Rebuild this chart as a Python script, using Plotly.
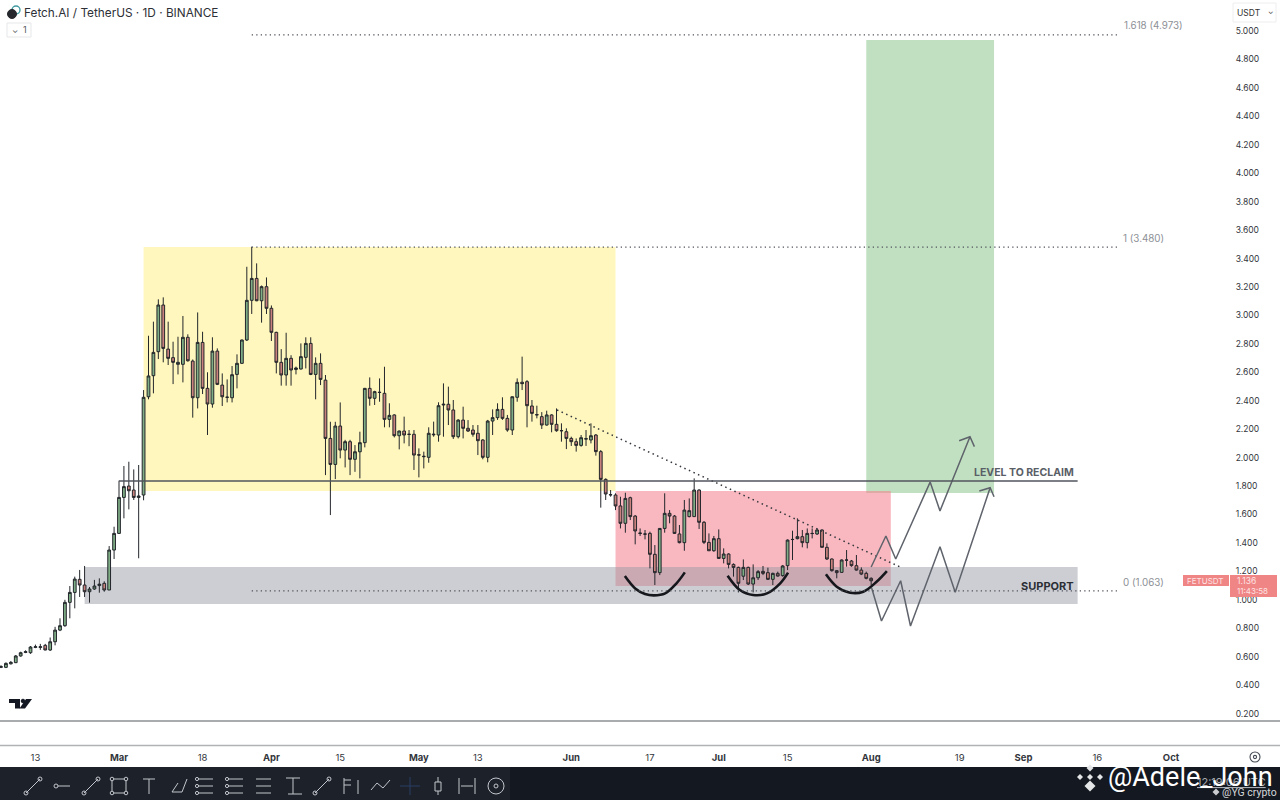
import pandas as pd
import plotly.graph_objs as go

# Daily candles: (open, close, high, low)
feb_ohlc = [
    (.525, .53, .54, .52), (.525, .553, .56, .52), (.55, .56, .57, .545), (.558, .605, .612, .555),
    (.605, .628, .635, .6), (.63, .635, .645, .625), (.628, .668, .675, .62), (.665, .67, .685, .66),
    (.665, .67, .69, .648), (.68, .647, .69, .645), (.647, .705, .735, .64), (.705, .787, .81, .68),
    (.787, .818, .87, .78), (.818, .982, 1.0, .81), (.982, 1.052, 1.097, .87), (1.052, 1.146, 1.163, .94),
    (1.144, 1.104, 1.21, 1.02), (1.104, 1.057, 1.238, 1.02), (1.057, 1.076, 1.09, .98), (1.076, 1.097, 1.14, 1.07),
    (1.10, 1.11, 1.151, 1.05), (1.116, 1.069, 1.13, 1.057), (1.069, 1.35, 1.378, 1.069), (1.35, 1.467, 1.514, 1.287),
]
mar_ohlc = [
    (1.467, 1.72, 1.838, 1.467), (1.72, 1.796, 1.941, 1.573), (1.80, 1.767, 1.971, 1.636), (1.772, 1.72, 1.917, 1.702),
    (1.72, 1.73, 1.948, 1.292), (1.737, 2.424, 2.475, 1.70), (2.428, 2.574, 2.857, 2.41), (2.576, 2.74, 2.956, 2.452),
    (2.745, 3.073, 3.113, 2.693), (3.073, 2.768, 3.127, 2.67), (2.763, 2.698, 2.956, 2.651), (2.703, 2.67, 2.815, 2.517),
    (2.656, 2.67, 2.85, 2.585), (2.656, 2.846, 2.996, 2.529), (2.846, 2.681, 2.867, 2.675), (2.679, 2.421, 2.69, 2.281),
    (2.421, 2.81, 3.021, 2.346), (2.81, 2.487, 2.885, 2.447), (2.487, 2.377, 2.6, 2.159), (2.377, 2.749, 2.846, 2.351),
    (2.749, 2.515, 2.768, 2.51), (2.51, 2.428, 2.592, 2.363), (2.425, 2.424, 2.55, 2.388), (2.421, 2.583, 2.644, 2.388),
    (2.585, 2.663, 2.726, 2.487), (2.663, 2.827, 2.83, 2.66), (2.827, 3.106, 3.342, 2.82), (3.106, 3.26, 3.483, 3.01),
    (3.26, 3.103, 3.366, 3.1), (3.103, 3.202, 3.21, 2.949), (3.202, 3.05, 3.267, 3.01),
]
apr_ohlc = [
    (3.05, 2.881, 3.07, 2.82), (2.881, 2.67, 2.885, 2.592), (2.67, 2.581, 2.763, 2.506), (2.581, 2.698, 2.878, 2.506),
    (2.698, 2.616, 2.72, 2.506), (2.62, 2.63, 2.64, 2.585), (2.623, 2.71, 2.803, 2.62), (2.705, 2.803, 2.846, 2.627),
    (2.803, 2.585, 2.846, 2.58), (2.585, 2.663, 2.705, 2.41), (2.663, 2.55, 2.733, 2.51), (2.545, 2.135, 2.581, 1.877),
    (2.135, 1.952, 2.252, 1.596), (1.952, 2.222, 2.252, 1.849), (2.222, 2.053, 2.388, 1.995), (2.053, 2.112, 2.125, 1.931),
    (2.112, 1.988, 2.125, 1.877), (1.988, 2.041, 2.088, 1.9), (2.041, 2.105, 2.182, 1.854), (2.105, 2.487, 2.49, 2.072),
    (2.487, 2.417, 2.564, 2.365), (2.417, 2.464, 2.47, 2.37), (2.46, 2.458, 2.557, 2.393), (2.452, 2.269, 2.639, 2.213),
    (2.269, 2.297, 2.382, 2.213), (2.3, 2.154, 2.305, 2.142), (2.154, 2.187, 2.19, 2.058), (2.187, 2.159, 2.288, 2.10),
    (2.163, 2.164, 2.194, 2.08), (2.164, 2.018, 2.194, 1.913),
]
may_ohlc = [
    (2.02, 2.018, 2.065, 1.861), (2.01, 2.007, 2.042, 1.924), (2.002, 2.171, 2.213, 1.964), (2.16, 2.164, 2.253, 2.147),
    (2.159, 2.365, 2.389, 2.112), (2.37, 2.375, 2.522, 2.147), (2.375, 2.335, 2.499, 2.229), (2.335, 2.147, 2.405, 2.131),
    (2.147, 2.264, 2.27, 2.135), (2.264, 2.206, 2.358, 2.135), (2.206, 2.187, 2.264, 2.18), (2.194, 2.164, 2.229, 2.147),
    (2.171, 2.119, 2.229, 2.018), (2.124, 2.002, 2.13, 1.988), (2.002, 2.257, 2.265, 1.967), (2.257, 2.281, 2.339, 2.159),
    (2.281, 2.339, 2.382, 2.265), (2.339, 2.276, 2.424, 2.265), (2.276, 2.194, 2.3, 2.182), (2.194, 2.428, 2.43, 2.159),
    (2.424, 2.529, 2.557, 2.393), (2.53, 2.52, 2.71, 2.475), (2.534, 2.365, 2.545, 2.213), (2.363, 2.311, 2.405, 2.253),
    (2.30, 2.302, 2.365, 2.276), (2.288, 2.229, 2.32, 2.201), (2.229, 2.3, 2.33, 2.225), (2.3, 2.234, 2.305, 2.178),
    (2.234, 2.189, 2.346, 2.182), (2.19, 2.189, 2.241, 2.112), (2.182, 2.135, 2.206, 2.06),
]
jun_ohlc = [
    (2.135, 2.112, 2.147, 2.082), (2.112, 2.086, 2.135, 2.042), (2.086, 2.14, 2.159, 2.077), (2.13, 2.133, 2.194, 2.082),
    (2.124, 2.154, 2.241, 2.1), (2.159, 2.042, 2.166, 2.014), (2.042, 1.847, 2.053, 1.648), (1.847, 1.744, 1.854, 1.702),
    (1.74, 1.738, 1.772, 1.725), (1.737, 1.66, 1.749, 1.631), (1.66, 1.538, 1.725, 1.502), (1.538, 1.713, 1.753, 1.472),
    (1.718, 1.585, 1.725, 1.561), (1.589, 1.484, 1.596, 1.39), (1.47, 1.467, 1.502, 1.449), (1.463, 1.462, 1.491, 1.425),
    (1.467, 1.32, 1.479, 1.221), (1.32, 1.191, 1.385, 1.104), (1.191, 1.502, 1.505, 1.174), (1.502, 1.608, 1.749, 1.472),
    (1.608, 1.589, 1.631, 1.538), (1.589, 1.467, 1.596, 1.463), (1.463, 1.402, 1.526, 1.397), (1.402, 1.631, 1.702, 1.345),
    (1.585, 1.627, 1.713, 1.58), (1.585, 1.772, 1.854, 1.585), (1.772, 1.545, 1.777, 1.498), (1.545, 1.404, 1.554, 1.392),
    (1.404, 1.345, 1.467, 1.345), (1.345, 1.43, 1.449, 1.338),
]
jul_ohlc = [
    (1.43, 1.291, 1.495, 1.287), (1.291, 1.322, 1.362, 1.256), (1.322, 1.249, 1.327, 1.221), (1.249, 1.228, 1.256, 1.163),
    (1.228, 1.116, 1.233, 1.052), (1.166, 1.228, 1.284, 1.139), (1.228, 1.111, 1.233, 1.104), (1.111, 1.155, 1.249, 1.052),
    (1.155, 1.198, 1.209, 1.139), (1.2, 1.186, 1.238, 1.174), (1.191, 1.144, 1.226, 1.139), (1.144, 1.186, 1.191, 1.104),
    (1.186, 1.167, 1.198, 1.163), (1.17, 1.238, 1.245, 1.163), (1.24, 1.42, 1.425, 1.209), (1.425, 1.424, 1.486, 1.28),
    (1.43, 1.444, 1.573, 1.425), (1.444, 1.402, 1.491, 1.369), (1.402, 1.467, 1.502, 1.362), (1.467, 1.466, 1.502, 1.432),
    (1.463, 1.491, 1.502, 1.456), (1.491, 1.369, 1.495, 1.369), (1.369, 1.287, 1.397, 1.28), (1.287, 1.205, 1.291, 1.198),
    (1.205, 1.191, 1.209, 1.151), (1.193, 1.28, 1.284, 1.191), (1.28, 1.279, 1.35, 1.233), (1.273, 1.24, 1.28, 1.233),
    (1.24, 1.209, 1.315, 1.205), (1.209, 1.181, 1.228, 1.174), (1.186, 1.151, 1.198, 1.144),
]
aug_ohlc = [(1.151, 1.134, 1.158, 1.104)]

# Axis ticks
price_ticks = [0.2 * i for i in range(1, 26)]
date_ticks = ["2024-02-13", "2024-03-01", "2024-03-18", "2024-04-01", "2024-04-15", "2024-05-01", "2024-05-13", "2024-06-01",
              "2024-06-17", "2024-07-01", "2024-07-15", "2024-08-01", "2024-08-19", "2024-09-01", "2024-09-16", "2024-10-01"]
date_labels = ["13", "<b>Mar</b>", "18", "<b>Apr</b>", "15", "<b>May</b>", "13", "<b>Jun</b>",
               "17", "<b>Jul</b>", "15", "<b>Aug</b>", "19", "<b>Sep</b>", "16", "<b>Oct</b>"]

# Drawings on the chart, x in days after 1 March
fib_levels = [4.973, 3.480, 1.063]
reclaim_level = 1.836
trend_days = [89.1, 158.9]
trend_prices = [2.335, 1.231]
arc1_days = [102.9, 105.0, 107.0, 108.8, 111.1, 113.4, 115.1]
arc1_prices = [1.167, 1.08, 1.041, 1.031, 1.045, 1.116, 1.193]
arc2_days = [123.8, 126.3, 129.0, 131.8, 134.5, 136.1]
arc2_prices = [1.170, 1.069, 1.034, 1.045, 1.116, 1.191]
arc3_days = [143.8, 146.0, 148.7, 151.4, 154.1, 156.2]
arc3_prices = [1.179, 1.092, 1.05, 1.057, 1.127, 1.202]
path1_days = [153.0, 156.0, 158.0, 165.0, 167.0, 173.1, None, 170.9, 173.1, 174.0]
path1_prices = [1.231, 1.449, 1.287, 1.828, 1.625, 2.147, None, 2.119, 2.147, 2.077]
path2_days = [153.1, 155.1, 159.0, 161.0, 167.0, 170.1, 177.2, None, 175.0, 177.2, 178.0]
path2_prices = [1.083, 0.851, 1.134, 0.816, 1.373, 1.053, 1.788, None, 1.765, 1.788, 1.725]

MARCH_1 = pd.Timestamp("2024-03-01")


def dia(valor):
    # Days after 1 March to a date, keeps the None gaps of the arrow paths
    if valor is None:
        return None
    return MARCH_1 + pd.Timedelta(days=valor)


def px_x(x):
    return x / 1280


def px_y(y):
    return 1 - y / 800


velas = feb_ohlc + mar_ohlc + apr_ohlc + may_ohlc + jun_ohlc + jul_ohlc + aug_ohlc
datos = pd.DataFrame(velas, columns=["open", "close", "high", "low"])
datos["date"] = pd.date_range("2024-02-06", periods=len(datos))

fig = go.Figure()
fig.add_trace(go.Candlestick(
    x=datos["date"], open=datos["open"], high=datos["high"], low=datos["low"], close=datos["close"],
    increasing=dict(fillcolor="#7fae86", line=dict(color="#23262b", width=1)),
    decreasing=dict(fillcolor="#c9827e", line=dict(color="#23262b", width=1)),
    whiskerwidth=0, hoverinfo="skip", showlegend=False,
))


def pinta_linea(dias, precios, color, ancho, forma="linear", raya="solid"):
    fig.add_trace(go.Scatter(
        x=[dia(d) for d in dias], y=precios, mode="lines",
        line=dict(color=color, width=ancho, shape=forma, dash=raya),
        connectgaps=False, hoverinfo="skip", showlegend=False,
    ))


pinta_linea(trend_days, trend_prices, "#33363c", 1.5, raya="1.5px,3.5px")
for dias, precios in [(arc1_days, arc1_prices), (arc2_days, arc2_prices), (arc3_days, arc3_prices)]:
    pinta_linea(dias, precios, "#15171c", 2.6, "spline")
pinta_linea(path1_days, path1_prices, "#5f636b", 1.5)
pinta_linea(path2_days, path2_prices, "#5f636b", 1.5)

formas = []


def caja(d0, d1, p0, p1, color):
    formas.append(dict(type="rect", xref="x", yref="y", x0=d0, x1=d1, y0=p0, y1=p1,
                       fillcolor=color, line=dict(width=0), layer="below"))


# Coloured zones
caja("2024-03-06", "2024-06-10", 1.765, 3.481, "#fff7bd")
caja("2024-07-31", "2024-08-26", 1.751, 4.937, "#c1e0c1")
caja("2024-06-10", "2024-08-05", 1.097, 1.765, "rgba(244,125,140,0.55)")
caja("2024-02-23", "2024-09-12", 0.97, 1.231, "rgba(150,152,165,0.48)")

# Level lines
formas.append(dict(type="line", xref="x", yref="y", x0="2024-03-01", x1="2024-09-12", y0=reclaim_level, y1=reclaim_level,
                   line=dict(color="#50545c", width=1.4), layer="above"))
for nivel in fib_levels:
    formas.append(dict(type="line", xref="x", yref="y", x0="2024-03-28", x1="2024-09-20", y0=nivel, y1=nivel,
                       line=dict(color="#50545c", width=1.3, dash="1.3px,3.2px"), layer="above"))


def caja_px(x0, y0, x1, y1, color, borde=None):
    formas.append(dict(type="rect", xref="paper", yref="paper", x0=px_x(x0), x1=px_x(x1), y0=px_y(y0), y1=px_y(y1),
                       fillcolor=color, layer="above",
                       line=dict(color=borde, width=1) if borde else dict(width=0)))


def linea_px(x0, y0, x1, y1, color, ancho=1):
    formas.append(dict(type="line", xref="paper", yref="paper", x0=px_x(x0), x1=px_x(x1), y0=px_y(y0), y1=px_y(y1),
                       line=dict(color=color, width=ancho), layer="above"))


def circulo_px(cx, cy, r, color, relleno=None, ancho=1):
    formas.append(dict(type="circle", xref="paper", yref="paper", x0=px_x(cx - r), x1=px_x(cx + r), y0=px_y(cy - r), y1=px_y(cy + r),
                       line=dict(color=color, width=ancho), fillcolor=relleno, layer="above"))


# Separator above the time axis
linea_px(0, 721, 1280, 721, "#555a60", 1.2)
linea_px(0, 745.5, 1280, 745.5, "#b0b2b5", 1.6)

# Bottom toolbar
caja_px(0, 767, 1280, 800, "#141820")
caja_px(0, 767, 510, 800, "#1d2129")
ICONO = "#c3c6cc"
CY = 786
for cx in [33, 91, 322]:
    linea_px(cx - 7, CY + 7, cx + 7, CY - 7, ICONO)
    circulo_px(cx - 7, CY + 7, 2, ICONO)
    circulo_px(cx + 7, CY - 7, 2, ICONO)
linea_px(58, CY, 70, CY, ICONO)
circulo_px(56, CY, 2, ICONO)
caja_px(112, CY - 7, 126, CY + 7, "rgba(0,0,0,0)", ICONO)
for cx, cy in [(112, CY - 7), (126, CY - 7), (112, CY + 7), (126, CY + 7)]:
    circulo_px(cx, cy, 1.8, ICONO, "#1d2129")
linea_px(143, CY - 7, 155, CY - 7, ICONO)
linea_px(149, CY - 7, 149, CY + 8, ICONO)
linea_px(172, CY + 6, 182, CY + 6, ICONO)
linea_px(172, CY + 6, 178, CY - 3, ICONO)
linea_px(182, CY + 6, 187, CY - 7, ICONO)
for cx in [205, 235, 263]:
    for dy in [-7, 0, 7]:
        linea_px(cx - 7, CY + dy, cx + 8, CY + dy, ICONO)
        if cx < 263:
            circulo_px(cx - 8, CY + dy, 1.6, ICONO)
linea_px(286, CY - 8, 300, CY - 8, ICONO)
linea_px(293, CY - 8, 293, CY + 8, ICONO)
linea_px(288, CY + 8, 302, CY + 8, ICONO)
linea_px(344, CY - 8, 344, CY + 8, ICONO)
linea_px(344, CY - 6, 351, CY - 6, ICONO)
linea_px(344, CY - 1, 351, CY - 1, ICONO)
linea_px(358, CY - 6, 358, CY + 8, ICONO)
for x0, y0, x1, y1 in [(371, CY + 4, 377, CY - 3), (377, CY - 3, 383, CY + 2), (383, CY + 2, 390, CY - 6)]:
    linea_px(x0, y0, x1, y1, ICONO)
linea_px(400, CY, 420, CY, "#2a3f66")
linea_px(410, CY - 9, 410, CY + 9, "#2a3f66")
linea_px(438, CY - 9, 438, CY + 9, ICONO)
caja_px(435, CY - 4, 441, CY + 5, "#1d2129", ICONO)
linea_px(459, CY - 8, 459, CY + 8, ICONO)
linea_px(475, CY - 8, 475, CY + 8, ICONO)
linea_px(461, CY, 473, CY, ICONO)
circulo_px(496, CY, 8, ICONO)
circulo_px(496, CY, 2, ICONO)


def rombo_px(cx, cy, r, color):
    formas.append(dict(type="path", xref="paper", yref="paper", layer="above", fillcolor=color, line=dict(width=0),
                       path=f"M {px_x(cx - r)} {px_y(cy)} L {px_x(cx)} {px_y(cy - r)} L {px_x(cx + r)} {px_y(cy)} L {px_x(cx)} {px_y(cy + r)} Z"))


# Watermark logos
for dx, dy, r in [(-10, 0, 3), (10, 0, 3), (0, -9, 3.5), (0, 9, 5.5), (0, 0, 3)]:
    rombo_px(1090 + dx, 777 + dy, r, "#e4e5e7")
rombo_px(1216, 792, 3.5, "#c9cbcf")

# TradingView mark
puntos = " L ".join(f"{px_x(x)} {px_y(y)}" for x, y in [(9, 699), (20, 699), (20, 708.5), (15, 708.5), (15, 703), (9, 703)])
formas.append(dict(type="path", xref="paper", yref="paper", layer="above", fillcolor="#131722", line=dict(width=0), path=f"M {puntos} Z"))
puntos = " L ".join(f"{px_x(x)} {px_y(y)}" for x, y in [(26, 699), (32, 699), (25, 708.5), (19.5, 708.5)])
formas.append(dict(type="path", xref="paper", yref="paper", layer="above", fillcolor="#131722", line=dict(width=0), path=f"M {puntos} Z"))
circulo_px(23, 701, 1.8, "#131722", "#131722")

# Header pieces
circulo_px(16, 10, 4, "#3f9aa0", None, 1.4)
circulo_px(12, 14, 4.5, "#26282d", "#26282d")
caja_px(7, 23, 31, 37, "rgba(0,0,0,0)", "#e6e7e9")
caja_px(1233, 3, 1276, 22, "rgba(0,0,0,0)", "#eeeeee")

# Price labels on the right
caja_px(1183, 575, 1229, 586, "#f08585")
caja_px(1230, 575, 1277, 597, "#f08585")

# Settings icon on the time axis
circulo_px(1255, 757, 5, "#444a52", None, 1.1)
circulo_px(1255, 757, 1.6, "#444a52", None, 1.1)

textos = []


def texto(x, y, contenido, tam, color, ancla="left", fuente="Inter"):
    textos.append(dict(xref="paper", yref="paper", x=px_x(x), y=px_y(y), text=contenido, showarrow=False,
                       xanchor=ancla, yanchor="middle", xshift=-1, font=dict(family=fuente, size=tam, color=color)))


texto(23, 12.5, "Fetch.AI / TetherUS · 1D · BINANCE", 11.8, "#2d3036")
texto(11, 30, "⌄", 8, "#555a60")
texto(22, 30, "1", 9, "#555a60")
texto(1236, 12.5, "USDT", 8.5, "#333333")
texto(1267, 11, "⌄", 7, "#333333")
texto(1154, 25, "1.618 (4.973)", 9.8, "#8d9096", "center")
texto(1144, 238.5, "1 (3.480)", 9.8, "#8d9096", "center")
texto(1144, 582, "0 (1.063)", 9.8, "#8d9096", "center")
texto(1077, 472, "<b>LEVEL TO RECLAIM</b>", 10.5, "#5a5e66", "right")
texto(1077, 586, "<b>SUPPORT</b>", 11, "#2b2e34", "right")
texto(1206, 580.5, "FETUSDT", 8, "#fde3e3", "center")
texto(1236, 580.5, "1.136", 8.5, "#fde3e3")
texto(1236, 591, "11:43:58", 8, "#fde3e3")
texto(1196, 782, "<u>12:19:06 UTC</u>", 11, "#a9acb2")
texto(1107, 777, "@Adele_John", 27, "#ffffff", "left", "Roboto")
texto(1221, 792, "@YG crypto", 10.5, "#d5d7da", "left", "Roboto")

fig.update_layout(
    width=1280, height=800,
    margin=dict(l=0, r=0, t=0, b=0),
    paper_bgcolor="#ffffff", plot_bgcolor="#ffffff",
    showlegend=False,
    boxgap=0.2,
    shapes=formas,
    annotations=textos,
    xaxis=dict(
        domain=[0, 1232 / 1280],
        range=["2024-02-05 19:03", "2024-10-13 09:36"],
        rangeslider=dict(visible=False),
        tickmode="array", tickvals=date_ticks, ticktext=date_labels,
        tickfont=dict(family="Inter", size=9.5, color="#33363c"),
        ticks="outside", ticklen=4, tickcolor="rgba(0,0,0,0)",
        showgrid=False, zeroline=False,
    ),
    yaxis=dict(
        domain=[55 / 800, 1],
        range=[-0.021, 5.218],
        side="right",
        tickmode="array", tickvals=price_ticks, tickformat=".3f",
        tickfont=dict(family="Inter", size=8.5, color="#33363c"),
        ticks="outside", ticklen=1, tickcolor="rgba(0,0,0,0)",
        showgrid=False, zeroline=False,
    ),
)

# The browser's default body margin would shift the whole picture by 8 px
fig.write_html("out.html", config=dict(displayModeBar=False), post_script="document.body.style.margin='0';")
